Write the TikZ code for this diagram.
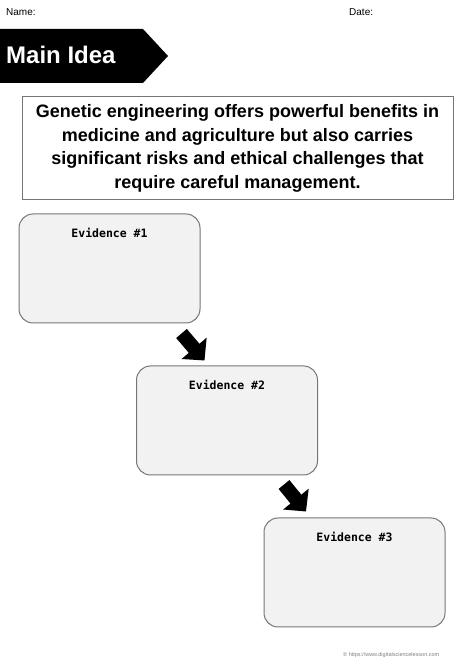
\documentclass[tikz,border=0pt]{standalone}
\usepackage{fontspec}
\setmainfont{Liberation Sans}
\setmonofont{DejaVu Sans Mono}
\usetikzlibrary{calc, arrows.meta}
\definecolor{boxgray}{HTML}{F2F2F2}
\definecolor{edgegray}{HTML}{767676}
\tikzset{
	evidence/.style={draw=edgegray, fill=boxgray, line width=1pt, rounded corners=14pt, minimum width=181pt, minimum height=109pt, inner sep=0pt},
	evtitle/.style={font=\ttfamily\bfseries\fontsize{11.5}{12}\selectfont, inner sep=0pt},
	bigarrow/.style={line width=14pt, -{Triangle[length=16pt,width=32pt]}},
}
\newcommand{\evidencebox}[4]{
	\node[evidence] (#1) at (#2,#3) {};
	\node[evtitle] (#1title) at ($ (#1.north) + (0,-19) $) {#4};
}

\begin{document}
\begin{tikzpicture}[x=1pt,y=1pt]
				\useasboundingbox (0,0) rectangle (474,669);
				\fill[white] (0,0) rectangle (474,669);
				\node[anchor=west, inner sep=0pt, font=\fontsize{10}{12}\selectfont] (name) at (6,657) {Name:};
				\node[anchor=west, inner sep=0pt, font=\fontsize{10}{12}\selectfont] (date) at (349,657) {Date:};
				% banner
				\fill[black] (0,640) -- (143,640) -- (168,613) -- (143,586) -- (0,586) -- cycle;
				\node[anchor=base west, inner sep=0pt, text=white, font=\bfseries\fontsize{24}{28}\selectfont] (mainidea) at (6,605) {Main Idea};
				% statement
				\node[draw=edgegray, line width=1pt, minimum width=431pt, minimum height=103pt, align=center, font=\bfseries\fontsize{18}{23.5}\selectfont] (idea) at (237.5,520.5) {Genetic engineering offers powerful benefits in\\medicine and agriculture but also carries\\significant risks and ethical challenges that\\require careful management.};
				% evidence boxes
				\evidencebox{ev1}{109.5}{400.5}{Evidence \#1}
				\evidencebox{ev2}{227}{248.5}{Evidence \#2}
				\evidencebox{ev3}{354.5}{96.5}{Evidence \#3}
				\coordinate (a1s) at (181.5,335.5);
				\coordinate (a1e) at (204.5,308.5);
				\coordinate (a2s) at (284,184.5);
				\coordinate (a2e) at (306,157.5);
				\draw[bigarrow] (a1s) -- (a1e);
				\draw[bigarrow] (a2s) -- (a2e);
				\node[anchor=west, inner sep=0pt, text=gray, font=\fontsize{5.5}{6}\selectfont] (credit) at (343,14) {\textcopyright{} https://www.digitalsciencelesson.com};
			\end{tikzpicture}
\end{document}
